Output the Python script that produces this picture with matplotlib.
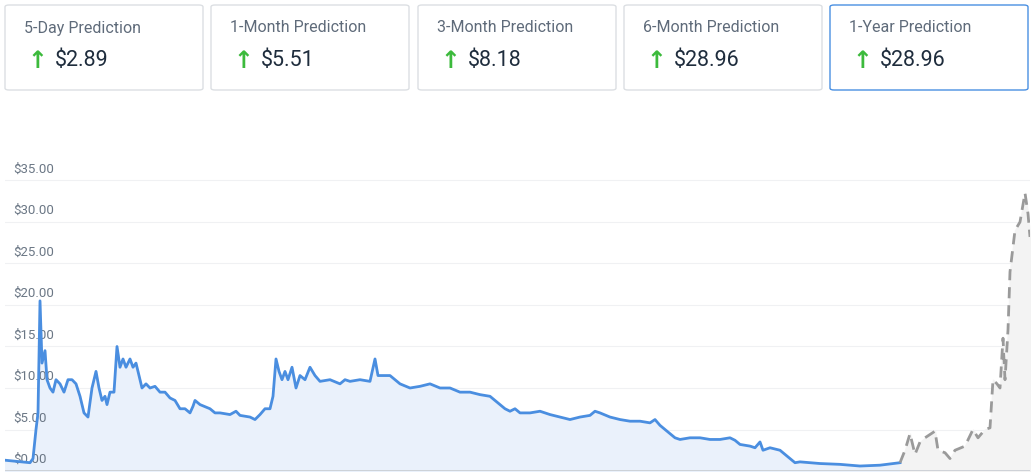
import matplotlib
matplotlib.use("Agg")
import matplotlib.pyplot as plt
from matplotlib.patches import FancyBboxPatch

card_titles = ["5-Day Prediction", "1-Month Prediction", "3-Month Prediction", "6-Month Prediction", "1-Year Prediction"]
card_values = ["$2.89", "$5.51", "$8.18", "$28.96", "$28.96"]

hist_x = [5,30,33,36,38,40,42,45,47,50,53,56,60,64,68,72,76,80,84,88,92,96,99,102,105,107,110,114,117,120,123,126,130,133,136,139,142,146,150,155,160,165,170,175,180,185,190,193,195,200,210,215,220,230,236,240,250,255,260,265,270,273,276,279,282,285,288,292,296,300,305,310,315,320,330,340,345,350,360,370,375,378,385,390,395,400,410,420,430,440,450,460,470,480,490,495,500,505,510,515,520,530,540,550,560,570,580,590,595,600,610,620,630,640,650,655,660,665,670,675,680,690,700,710,720,730,735,740,750,755,760,763,770,780,790,795,800,820,840,860,880,900]
hist_y = [1.3,1.0,1.5,5,7,20.5,13,14.5,11,10,9.5,11,10.5,9.5,11,11,10.5,9,7,6.5,10,12,10,8.5,9,8,9.5,9.5,15,12.5,13.5,12.5,13.5,12.5,13,11.5,10,10.5,10,10.2,9.5,9.5,8.8,8.5,7.5,7.5,7,7.8,8.5,8,7.5,7,7,6.8,7.2,6.7,6.5,6.2,6.8,7.5,7.5,9,13.5,12,11,12,11,12.5,10,11.5,11,12.5,11.5,10.8,11,10.5,11,10.8,11,10.8,13.5,11.5,11.5,11.5,11,10.5,10,10.2,10.5,10,10,9.5,9.5,9.2,9,8.5,8,7.5,7.2,7.5,7,7,7.2,6.8,6.5,6.2,6.5,6.7,7.2,7,6.5,6.2,6,6,5.8,6.2,5.5,5,4.5,4,3.8,4,4,3.8,3.8,4.0,3.7,3.2,3,2.8,3.5,2.5,2.8,2.5,1.5,1.0,1.1,0.9,0.8,0.6,0.7,1.0]
fc_x = [900,905,910,915,920,925,935,938,945,950,955,965,973,978,985,990,993,997,1000,1003,1005,1008,1010,1015,1020,1025,1028,1030]
fc_y = [1.0,2.5,4.5,2.0,3.5,4.0,4.8,2.5,2.2,1.5,2.5,3.0,5.0,4.0,5.0,5.2,11,10.5,10,16,11,17,24,29,30,33.5,31,28.2]
yticks = [0,5,10,15,20,25,30,35]

W, H = 1033, 473
fig = plt.figure(figsize=(W/100, H/100), dpi=100)
plt.rcParams['font.family'] = ['Roboto', 'DejaVu Sans']

# cards
card_x = [5, 211, 418, 624, 830]
for i, (t, v) in enumerate(zip(card_titles, card_values)):
    x0 = card_x[i]
    ec = '#4a90e2' if i == 4 else '#dcdfe3'
    fig.patches.append(FancyBboxPatch((x0/W, 1-90/H), 198/W, 85/H,
                       boxstyle="round,pad=0,rounding_size=0.004", transform=fig.transFigure,
                       fc='white', ec=ec, lw=1))
    fig.text((x0+19)/W, 1-28/H, t, fontsize=11.5, color='#5f6b7a', va='center')
    fig.text((x0+22)/W, 1-61/H, "\u2191", fontsize=17, color='#3cba3c', va='center', fontweight='bold', family='DejaVu Sans')
    fig.text((x0+50)/W, 1-61/H, v, fontsize=15.5, color='#1f2d3d', va='center')

ax = fig.add_axes([5/W, 2/H, 1025/W, (471-165)/H])
ax.set_xlim(5, 1030)
ax.set_ylim(0, (471-165)/8.3)
for s in ax.spines.values():
    s.set_visible(False)
ax.axhline(0, color='#c8ccd2', lw=1.2)
for t in yticks[1:]:
    ax.axhline(t, color='#f0f1f3', lw=0.8, zorder=0)
for t in yticks:
    ax.text(13, t + 0.6, f"${t:.2f}", fontsize=9.5, color='#6b7785', va='bottom', ha='left')
ax.set_xticks([]); ax.set_yticks([])
ax.fill_between(hist_x, hist_y, 0, color='#eaf1fb', zorder=1)
ax.plot(hist_x, hist_y, color='#4a8ee0', lw=2, zorder=3)
ax.fill_between(fc_x, fc_y, 0, color='#f3f3f3', zorder=1)
ax.plot(fc_x, fc_y, color='#9a9a9a', lw=2, ls=(0, (4, 2.5)), zorder=3)

fig.savefig("out.png", dpi=100)
